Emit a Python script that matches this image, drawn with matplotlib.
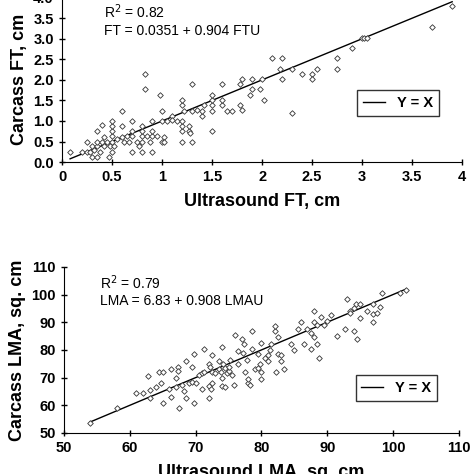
import matplotlib
matplotlib.use("Agg")
import matplotlib.pyplot as plt
from matplotlib.lines import Line2D

plt.rcParams['font.family'] = ['Liberation Sans', 'DejaVu Sans']

ft_pts = [(0.08,0.25),(0.2,0.25),(0.25,0.5),(0.25,0.25),(0.28,0.25),(0.3,0.12),(0.3,0.38),(0.32,0.3),(0.35,0.12),(0.35,0.4),(0.35,0.5),(0.35,0.75),(0.38,0.25),(0.4,0.5),(0.4,0.9),(0.42,0.6),(0.42,0.4),(0.45,0.5),(0.47,0.12),(0.48,0.38),(0.5,0.25),(0.5,0.5),(0.5,0.63),(0.5,0.75),(0.5,0.88),(0.5,1.0),(0.52,0.4),(0.55,0.55),(0.6,0.6),(0.6,0.88),(0.6,1.25),(0.62,0.5),(0.65,0.63),(0.67,0.5),(0.7,0.25),(0.7,0.63),(0.7,0.75),(0.7,1.0),(0.75,0.5),(0.77,0.38),(0.8,0.25),(0.8,0.5),(0.8,0.63),(0.8,0.75),(0.8,0.88),(0.83,1.77),(0.83,2.15),(0.85,0.63),(0.88,0.5),(0.9,0.25),(0.9,0.63),(0.9,1.0),(0.9,0.75),(0.95,0.63),(0.98,1.63),(1.0,1.25),(1.0,0.5),(1.0,1.0),(1.02,0.6),(1.02,0.5),(1.05,1.0),(1.1,1.13),(1.1,1.02),(1.15,1.0),(1.2,0.5),(1.2,0.75),(1.2,0.88),(1.2,1.0),(1.2,1.4),(1.2,1.5),(1.22,1.25),(1.27,0.75),(1.27,0.88),(1.28,0.7),(1.3,0.5),(1.3,1.25),(1.3,1.9),(1.35,1.27),(1.4,1.13),(1.4,1.25),(1.42,1.4),(1.5,0.75),(1.5,1.25),(1.5,1.4),(1.5,1.5),(1.5,1.63),(1.6,1.4),(1.6,1.5),(1.6,1.9),(1.65,1.25),(1.7,1.25),(1.78,1.38),(1.78,1.9),(1.8,1.27),(1.8,2.02),(1.88,1.63),(1.9,2.02),(1.9,1.77),(1.98,1.77),(2.0,2.02),(2.02,1.5),(2.1,2.52),(2.18,2.27),(2.2,2.02),(2.2,2.52),(2.3,2.27),(2.3,1.2),(2.4,2.15),(2.5,2.15),(2.5,2.02),(2.55,2.27),(2.75,2.27),(2.75,2.52),(2.9,2.77),(3.0,3.02),(3.02,3.02),(3.05,3.02),(3.7,3.28),(3.9,3.8)]
ft_x = [p[0] for p in ft_pts]
ft_y = [p[1] for p in ft_pts]

lma_pts = [(54,53.5),(58,59),(61,64.5),(62,64.5),(62.7,70.5),(63,62.5),(63,65.5),(64,66.5),(64.5,72),(64.8,68),(65,61),(65,72),(66,66),(66.2,73),(66.3,63),(67,66.5),(67,70),(67.3,74),(67.3,72.5),(67.5,59),(68,67.5),(68.3,65),(68.5,76),(68.5,62.5),(69,68),(69.5,68.5),(69.5,74),(69.7,61),(69.8,78.5),(70,68),(70.5,71),(71,66),(71,71.5),(71.3,72),(71.3,80.5),(72,62.5),(72,67),(72,75),(72.2,74),(72.3,66),(72.5,68),(72.5,72),(72.5,78),(73,71.5),(73.5,73),(73.5,76),(73.8,72),(74,70),(74,81),(74,67),(74.2,75),(74.5,73.5),(74.5,66.5),(74.8,71.5),(75,72.5),(75,74),(75.3,76.5),(75.5,71),(75.8,67.5),(76,85.5),(76.5,79.5),(76.5,75),(77,84),(77.2,79),(77.3,82),(77.5,72),(77.8,76.5),(78,68),(78,69.5),(78.2,67.5),(78.5,87),(78.5,80.5),(79,73),(79.5,78.5),(79.5,73.5),(79.8,75),(80,72),(80,69.5),(80,82.5),(80.5,77),(81,78),(81,76),(81.3,80),(81.5,82),(82,87),(82,88.5),(82.2,72),(82.5,78.5),(82.5,84.5),(83,78),(83,76),(83.5,73),(84.5,82),(85,80),(85.5,87.5),(86,90),(86.5,82),(87,87.5),(87.5,80.5),(87.5,86),(88,94),(88,90),(88,84.5),(88.5,89),(88.5,82),(88.8,77),(89,92),(89.5,89),(90,90.5),(90.5,92.5),(91.5,85),(92.7,87.5),(93,98.5),(93.5,94),(93.5,93.5),(94,87),(94,95),(94.3,96.5),(94.5,84),(95,96.5),(95,91.5),(96,94),(97,90),(97,93),(97,96.5),(97.5,93.5),(98,95.5),(98.3,100.5),(101,100.5),(102,101.5)]
lma_x = [p[0] for p in lma_pts]
lma_y = [p[1] for p in lma_pts]

fig = plt.figure(figsize=(4.74, 4.74), dpi=100)
ax1 = fig.add_axes([0.131, 0.658, 0.844, 0.347])
ax2 = fig.add_axes([0.135, 0.0865, 0.833, 0.3505])

def style(ax):
    for s in ['top', 'right']:
        ax.spines[s].set_visible(False)
    ax.tick_params(direction='inout', length=5, width=1, labelsize=10.5)
    for lab in ax.get_xticklabels() + ax.get_yticklabels():
        lab.set_fontweight('bold')

ax1.scatter(ft_x, ft_y, s=8, marker='D', facecolors='white', edgecolors='#333333', linewidths=0.6, zorder=3)
ax1.plot([min(ft_x), max(ft_x)], [min(ft_x), max(ft_x)], color='black', lw=1)
ax1.set_xlim(0, 4); ax1.set_ylim(0, 4)
ax1.set_xticks([0, 0.5, 1, 1.5, 2, 2.5, 3, 3.5, 4])
ax1.set_xticklabels(['0', '0.5', '1', '1.5', '2', '2.5', '3', '3.5', '4'])
ax1.set_yticks([0, 0.5, 1, 1.5, 2, 2.5, 3, 3.5, 4])
ax1.set_yticklabels(['0.0', '0.5', '1.0', '1.5', '2.0', '2.5', '3.0', '3.5', '4.0'])
style(ax1)
ax1.set_xlabel('Ultrasound FT, cm', fontsize=13, fontweight='bold', labelpad=6)
ax1.set_ylabel('Carcass FT, cm', fontsize=13, fontweight='bold')
ax1.text(0.42, 3.45, 'R$^2$ = 0.82\nFT = 0.0351 + 0.904 FTU', fontsize=10, linespacing=1.2, va='center')
ax1.legend([Line2D([], [], color='black', lw=1)], ['Y = X'], loc='center left',
           bbox_to_anchor=(0.72, 0.36), frameon=True, fancybox=False, edgecolor='black',
           prop={'weight': 'bold', 'size': 10.5}, handlelength=1.5)

ax2.scatter(lma_x, lma_y, s=8, marker='D', facecolors='white', edgecolors='#333333', linewidths=0.6, zorder=3)
ax2.plot([min(lma_x), max(lma_x)], [min(lma_x), max(lma_x)], color='black', lw=1)
ax2.set_xlim(50, 110); ax2.set_ylim(50, 110)
ax2.set_xticks(range(50, 111, 10)); ax2.set_yticks(range(50, 111, 10))
style(ax2)
ax2.set_xlabel('Ultrasound LMA, sq. cm', fontsize=13, fontweight='bold', labelpad=6)
ax2.set_ylabel('Carcass LMA, sq. cm', fontsize=13, fontweight='bold')
ax2.text(55.5, 101.5, 'R$^2$ = 0.79\nLMA = 6.83 + 0.908 LMAU', fontsize=10, linespacing=1.2, va='center')
ax2.legend([Line2D([], [], color='black', lw=1)], ['Y = X'], loc='center left',
           bbox_to_anchor=(0.72, 0.27), frameon=True, fancybox=False, edgecolor='black',
           prop={'weight': 'bold', 'size': 10.5}, handlelength=1.5)

fig.savefig('out.png', dpi=100, facecolor='white')
